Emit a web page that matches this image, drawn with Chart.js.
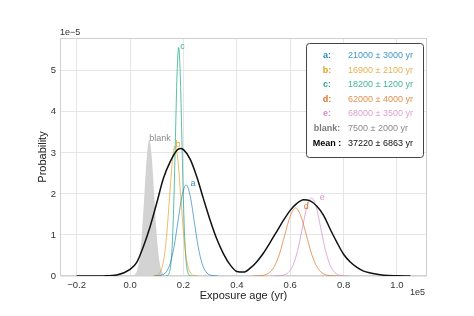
<!DOCTYPE html>
<html>
<head>
<meta charset="utf-8">
<script src="https://cdn.jsdelivr.net/npm/chart.js@4.4.1/dist/chart.umd.min.js"></script>
<style>
  body { margin: 0; background: #fff; }
  canvas { display: block; }
</style>
</head>
<body>
<canvas id="c" width="474" height="316"></canvas>
<script>
// x in units of 1e5 yr, probability in units of 1e-5
const xTicks = [-0.2, 0.0, 0.2, 0.4, 0.6, 0.8, 1.0];
const xTickLabels = ['\u22120.2', '0.0', '0.2', '0.4', '0.6', '0.8', '1.0'];
const yTicks = [0, 1, 2, 3, 4, 5];
const yTickLabels = ['0', '1', '2', '3', '4', '5'];

const aAge = [0.09, 0.105, 0.12, 0.135, 0.15, 0.165, 0.18, 0.195, 0.21, 0.225, 0.24, 0.255, 0.27, 0.285, 0.3, 0.315, 0.33];
const aProb = [0, 0.005, 0.025, 0.097, 0.30, 0.72, 1.35, 1.96, 2.22, 1.96, 1.35, 0.72, 0.30, 0.097, 0.025, 0.005, 0];

const bAge = [0.085, 0.0955, 0.106, 0.1165, 0.127, 0.1375, 0.148, 0.1585, 0.169, 0.1795, 0.19, 0.2005, 0.211, 0.2215, 0.232, 0.2425, 0.253];
const bProb = [0.001, 0.007, 0.035, 0.139, 0.43, 1.03, 1.92, 2.80, 3.17, 2.80, 1.92, 1.03, 0.43, 0.139, 0.035, 0.007, 0.001];

const cAge = [0.134, 0.14, 0.146, 0.152, 0.158, 0.164, 0.17, 0.176, 0.182, 0.188, 0.194, 0.2, 0.206, 0.212, 0.218, 0.224, 0.23];
const cProb = [0.002, 0.012, 0.062, 0.245, 0.754, 1.81, 3.38, 4.92, 5.57, 4.92, 3.38, 1.81, 0.754, 0.245, 0.062, 0.012, 0.002];

const dAge = [0.46, 0.48, 0.5, 0.52, 0.54, 0.56, 0.58, 0.6, 0.62, 0.64, 0.66, 0.68, 0.7, 0.72, 0.74, 0.76, 0.78];
const dProb = [0.0005, 0.004, 0.018, 0.073, 0.225, 0.54, 1.01, 1.46, 1.66, 1.46, 1.01, 0.54, 0.225, 0.073, 0.018, 0.004, 0.0005];

const eAge = [0.54, 0.5575, 0.575, 0.5925, 0.61, 0.6275, 0.645, 0.6625, 0.68, 0.6975, 0.715, 0.7325, 0.75, 0.7675, 0.785, 0.8025, 0.82];
const eProb = [0.0006, 0.004, 0.021, 0.083, 0.257, 0.617, 1.15, 1.68, 1.90, 1.68, 1.15, 0.617, 0.257, 0.083, 0.021, 0.004, 0.0006];

const blankAge = [0.0, 0.009, 0.018, 0.027, 0.036, 0.045, 0.054, 0.063, 0.072, 0.081, 0.09, 0.099, 0.108, 0.117, 0.126, 0.135, 0.144];
const blankProb = [0.001, 0.007, 0.037, 0.146, 0.45, 1.08, 2.01, 2.93, 3.32, 2.93, 2.01, 1.08, 0.45, 0.146, 0.037, 0.007, 0.001];

const meanAge = [-0.2, -0.15, -0.1, -0.05, 0, 0.025, 0.05, 0.075, 0.1, 0.125, 0.15, 0.175, 0.1875, 0.2, 0.225, 0.25, 0.275, 0.3, 0.325, 0.35, 0.375, 0.4, 0.425, 0.45, 0.475, 0.5, 0.525, 0.55, 0.575, 0.6, 0.625, 0.65, 0.675, 0.7, 0.725, 0.75, 0.775, 0.8, 0.825, 0.85, 0.875, 0.9, 0.95, 1.0, 1.05];
const meanProb = [0, 0, 0.003, 0.025, 0.16, 0.33, 0.72, 1.2, 1.78, 2.38, 2.78, 3.06, 3.11, 3.08, 2.85, 2.42, 1.88, 1.36, 0.9, 0.54, 0.27, 0.11, 0.095, 0.19, 0.35, 0.56, 0.82, 1.09, 1.36, 1.60, 1.77, 1.86, 1.83, 1.70, 1.48, 1.14, 0.82, 0.53, 0.34, 0.21, 0.12, 0.075, 0.02, 0.004, 0];

// legend rows: label, value text
const legNames = ['a:', 'b:', 'c:', 'd:', 'e:', 'blank:', 'Mean :'];
const legValues = ['21000 \u00b1 3000 yr', '16900 \u00b1 2100 yr', '18200 \u00b1 1200 yr', '62000 \u00b1 4000 yr', '68000 \u00b1 3500 yr', '7500 \u00b1 2000 yr', '37220 \u00b1 6863 yr'];

const cols = {
    a: '1,115,178', b: '222,143,5', c: '2,158,115', d: '213,94,0', e: '204,120,188'
};
const rgba = (k, al) => 'rgba(' + cols[k] + ',' + al + ')';

const legNameCol = [rgba('a', 0.85), rgba('b', 0.85), rgba('c', 0.85), rgba('d', 0.85), rgba('e', 0.85), '#7a7a7a', '#000'];
const legValCol = [rgba('a', 0.75), rgba('b', 0.7), rgba('c', 0.75), rgba('d', 0.7), rgba('e', 0.7), '#8c8c8c', '#111'];

const pts = (xs, ys) => xs.map((x, i) => ({ x: x, y: ys[i] }));

function curve(xs, ys, color, w, ord) {
    return {
        data: pts(xs, ys),
        borderColor: color,
        borderWidth: w,
        pointRadius: 0,
        cubicInterpolationMode: 'monotone',
        fill: false,
        order: ord
    };
}

const FONT = "'Liberation Sans', Arial, sans-serif";

// frame around the plot area
const framePlugin = {
    id: 'frame',
    beforeDatasetsDraw(chart) {
        let ctx = chart.ctx, a = chart.chartArea;
        ctx.save();
        ctx.strokeStyle = '#d0d0d0';
        ctx.lineWidth = 1;
        ctx.strokeRect(a.left + 0.5, a.top + 0.5, a.right - a.left - 1, a.bottom - a.top - 1);
        ctx.restore();
    }
};

// curve labels, legend box, offset texts
const textPlugin = {
    id: 'texts',
    afterDraw(chart) {
        let ctx = chart.ctx, a = chart.chartArea;
        let xs = chart.scales.x, ys = chart.scales.y;
        ctx.save();

        // curve labels near each peak
        let marks = [
            ['a', 0.236, 2.22, rgba('a', 0.8)],
            ['b', 0.18, 3.17, rgba('b', 0.8)],
            ['c', 0.196, 5.57, rgba('c', 0.8)],
            ['d', 0.66, 1.66, rgba('d', 0.8)],
            ['e', 0.72, 1.90, rgba('e', 0.8)],
            ['blank', 0.112, 3.32, '#8a8a8a']
        ];
        ctx.font = '9px ' + FONT;
        ctx.textAlign = 'center';
        ctx.textBaseline = 'middle';
        marks.forEach(m => {
            ctx.fillStyle = m[3];
            ctx.fillText(m[0], xs.getPixelForValue(m[1]), ys.getPixelForValue(m[2]) - 1);
        });

        // offset labels
        ctx.fillStyle = '#333';
        ctx.textAlign = 'left';
        ctx.fillText('1e\u22125', a.left, a.top - 5);
        ctx.textAlign = 'right';
        ctx.fillText('1e5', a.right - 2, a.bottom + 17);

        // legend box
        let bx = a.right - 121, by = a.top + 5, bw = 117, bh = 114;
        ctx.fillStyle = '#fff';
        ctx.strokeStyle = '#444';
        ctx.lineWidth = 1;
        ctx.beginPath();
        ctx.roundRect(bx + 0.5, by + 0.5, bw, bh, 3);
        ctx.fill();
        ctx.stroke();

        legNames.forEach((n, i) => {
            let y = by + 12.5 + i * 14.6;
            ctx.font = 'bold 9px ' + FONT;
            ctx.textAlign = 'center';
            ctx.fillStyle = legNameCol[i];
            ctx.fillText(n, a.right - 100, y);
            ctx.font = '9px ' + FONT;
            ctx.textAlign = 'left';
            ctx.fillStyle = legValCol[i];
            ctx.fillText(legValues[i], a.right - 79, y);
        });
        ctx.restore();
    }
};

const blankSet = {
    data: pts(blankAge, blankProb),
    borderWidth: 0,
    borderColor: 'rgba(0,0,0,0)',
    backgroundColor: '#d3d3d3',
    pointRadius: 0,
    cubicInterpolationMode: 'monotone',
    fill: 'origin',
    order: 3
};

new Chart(document.getElementById('c'), {
    type: 'line',
    data: {
        datasets: [
            blankSet,
            curve(aAge, aProb, rgba('a', 0.6), 1, 2),
            curve(bAge, bProb, rgba('b', 0.6), 1, 2),
            curve(cAge, cProb, rgba('c', 0.65), 1, 2),
            curve(dAge, dProb, rgba('d', 0.6), 1, 2),
            curve(eAge, eProb, rgba('e', 0.6), 1, 2),
            curve(meanAge, meanProb, '#111', 1.5, 1)
        ]
    },
    options: {
        responsive: false,
        animation: false,
        layout: { padding: { left: 30, right: 47, top: 38, bottom: 0 } },
        plugins: { legend: { display: false }, tooltip: { enabled: false } },
        scales: {
            x: {
                type: 'linear',
                min: -0.2625,
                max: 1.1125,
                afterBuildTicks: s => { s.ticks = xTicks.map(v => ({ value: v })); },
                afterFit: s => { s.height = 40; },
                grid: { color: '#e6e6e6', drawTicks: false },
                border: { display: false },
                ticks: {
                    color: '#333',
                    padding: 4,
                    font: { family: FONT, size: 9.5 },
                    callback: (v, i) => xTickLabels[i]
                },
                title: {
                    display: true,
                    text: 'Exposure age (yr)',
                    color: '#222',
                    font: { family: FONT, size: 11 },
                    padding: { top: 13, bottom: 13 }
                }
            },
            y: {
                min: 0,
                max: 5.8,
                afterBuildTicks: s => { s.ticks = yTicks.map(v => ({ value: v })); },
                afterFit: s => { s.width = 30; },
                grid: { color: '#e6e6e6', drawTicks: false },
                border: { display: false },
                ticks: {
                    color: '#333',
                    padding: 4,
                    font: { family: FONT, size: 9.5 },
                    callback: (v, i) => yTickLabels[i]
                },
                title: {
                    display: true,
                    text: 'Probability',
                    color: '#222',
                    font: { family: FONT, size: 11 },
                    padding: { top: 6, bottom: 6 }
                }
            }
        }
    },
    plugins: [framePlugin, textPlugin]
});
</script>
</body>
</html>
